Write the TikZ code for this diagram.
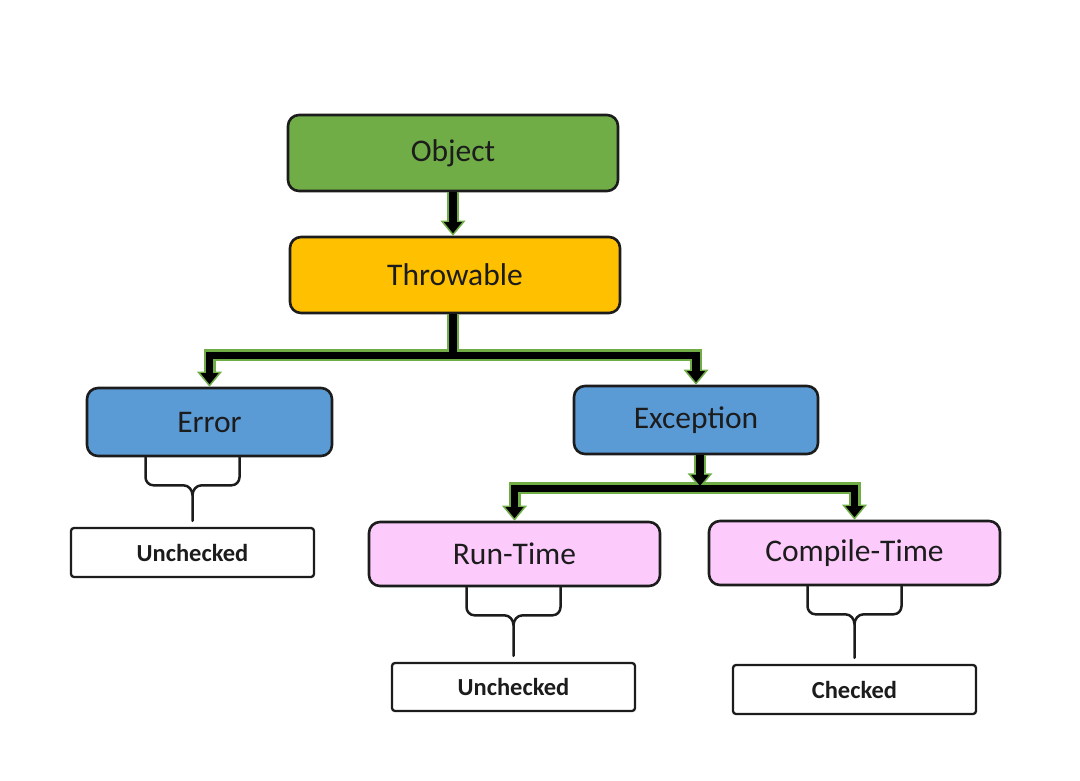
\documentclass[tikz,border=0pt]{standalone}
\usepackage{fontspec}
\setmainfont{Carlito}
\usetikzlibrary{arrows.meta,calc}
\definecolor{objg}{HTML}{70AD47}
\definecolor{thry}{HTML}{FFC000}
\definecolor{errb}{HTML}{5B9BD5}
\definecolor{rtp}{HTML}{FCCBFC}
\definecolor{ink}{HTML}{1C1C1C}
\newcommand\mybrace[2]{%
  \draw[bracestyle] let \p1=(#2.north), \p2=(#1.south) in
    (\x1-47pt,\y2) -- (\x1-47pt,\y2-20pt) to[out=-90,in=180] (\x1-39pt,\y2-28pt)
      -- (\x1-9pt,\y2-28pt) to[out=0,in=90] (\x1,\y2-38pt) -- (\x1,\y1+6pt)
    (\x1+47pt,\y2) -- (\x1+47pt,\y2-20pt) to[out=-90,in=0] (\x1+39pt,\y2-28pt)
      -- (\x1+9pt,\y2-28pt) to[out=180,in=90] (\x1,\y2-38pt);
}
\begin{document}
\begin{tikzpicture}[x=1pt,y=-1pt,
  box/.style={draw=ink, line width=2.6pt, rounded corners=11pt, inner sep=0pt,
    text=ink, font=\fontsize{31.5}{36}\selectfont},
  lbl/.style={draw=ink, line width=2.3pt, rounded corners=3pt, inner sep=0pt,
    fill=white, text=ink, minimum width=243pt, font=\bfseries\fontsize{24.5}{28}\selectfont},
  oline/.style={draw=objg, line width=12pt},
  cline/.style={draw=black, line width=7.5pt},
  otip/.style={-{Triangle[length=15pt,width=25pt,line width=0pt]}},
  ctip/.style={-{Triangle[length=11pt,width=18pt,line width=0pt]}, shorten >=2.5pt},
  bracestyle/.style={draw=ink, line width=2.5pt, line cap=round}
]
\useasboundingbox (0,0) rectangle (1080,780);

\node[box, fill=objg, minimum width=330pt, minimum height=76pt] (obj) at (453,153) {Object};
\node[box, fill=thry, minimum width=330pt, minimum height=76pt] (thr) at (455,275) {Throwable};
\node[box, fill=errb, minimum width=245pt, minimum height=68pt] (err) at (209.5,422) {Error};
\node[box, fill=errb, minimum width=244pt, minimum height=68pt] (exc) at (696,420) {Exception};
\node[box, fill=rtp, minimum width=291pt, minimum height=64pt] (rt) at (514.5,554) {Run-Time};
\node[box, fill=rtp, minimum width=291pt, minimum height=64pt] (ct) at (854.5,553) {Compile-Time};
\node[lbl, minimum height=49pt] (unc1) at (192.5,552.5) {Unchecked};
\node[lbl, minimum height=48pt] (unc2) at (513.5,687) {Unchecked};
\node[lbl, minimum height=49pt] (chk) at (854.5,689.5) {Checked};

\coordinate (j1) at ($(thr.south)+(-2,41)$);
\coordinate (e1) at ($(exc.south)+(4,0)$);
\coordinate (j2) at ($(exc.south)+(4,33)$);

% green outline pass
\draw[oline, otip] (obj.south) -- (obj.south |- thr.north);
\draw[oline] (j1 |- thr.south) -- (j1);
\draw[oline, otip] (j1) -| (err.north);
\draw[oline, otip] (j1) -| (exc.north);
\draw[oline, otip] (e1) -- (j2);
\draw[oline, otip] (j2) -| (rt.north);
\draw[oline, otip] (j2) -| (ct.north);
% black core pass
\draw[cline, ctip] (obj.south) -- (obj.south |- thr.north);
\draw[cline] (j1 |- thr.south) -- (j1);
\draw[cline, ctip] (j1) -| (err.north);
\draw[cline, ctip] (j1) -| (exc.north);
\draw[cline, ctip] (e1) -- (j2);
\draw[cline, ctip] (j2) -| (rt.north);
\draw[cline, ctip] (j2) -| (ct.north);

\mybrace{err}{unc1}
\mybrace{rt}{unc2}
\mybrace{ct}{chk}
\end{tikzpicture}
\end{document}
